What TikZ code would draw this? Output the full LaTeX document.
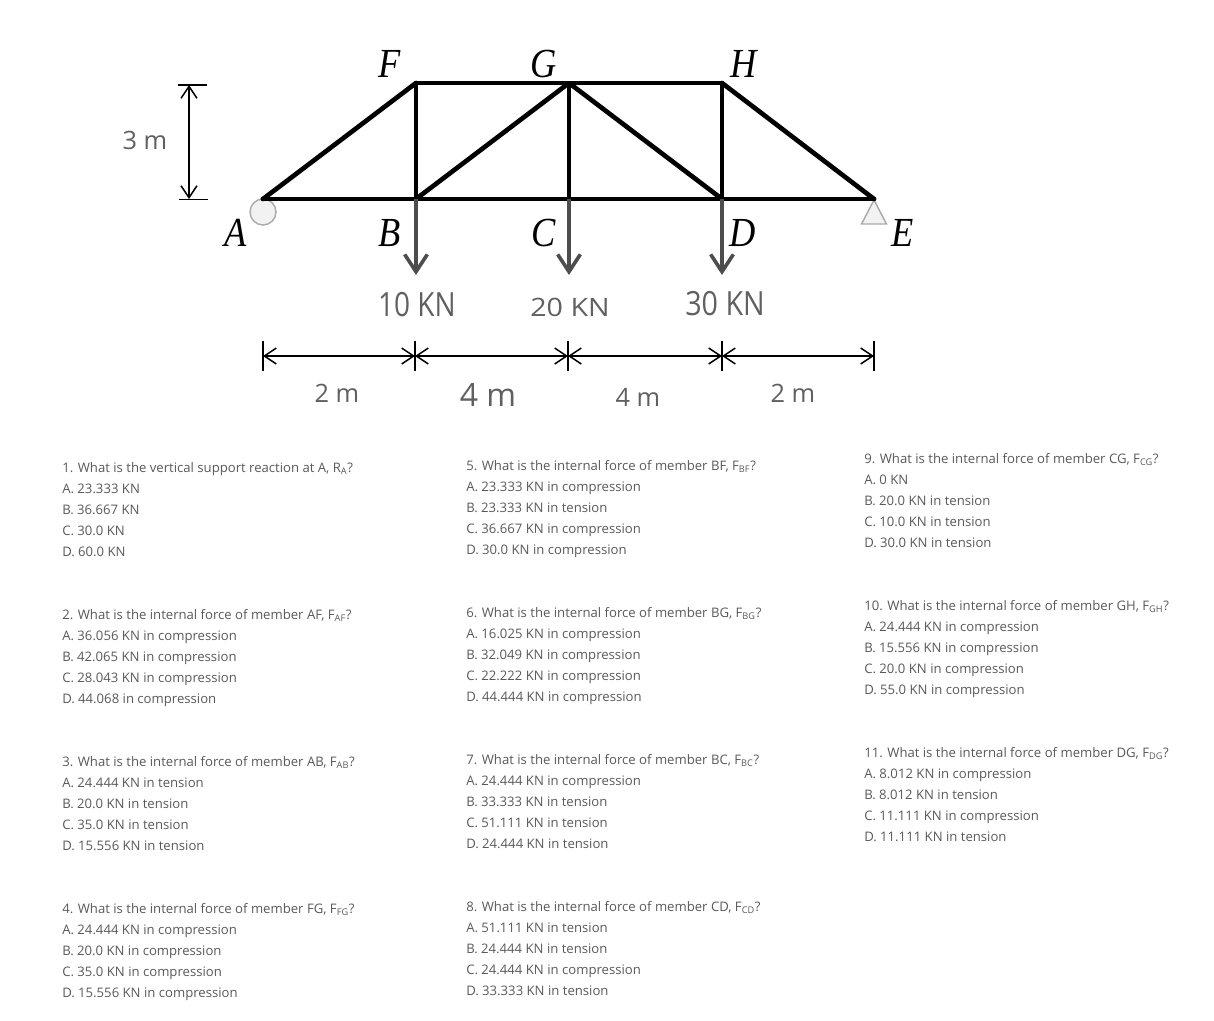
\documentclass[tikz,border=0pt]{standalone}
\usepackage{fontspec}
\setmainfont{Open Sans}
\newfontfamily\jointfont{Liberation Serif}
\usetikzlibrary{arrows.meta}
\definecolor{qgray}{HTML}{595959}
\definecolor{loadgray}{HTML}{4D4D4D}
\definecolor{supgray}{HTML}{ABABAB}
\definecolor{supfill}{HTML}{F2F2F2}
\definecolor{labgray}{HTML}{606060}
\tikzset{
	member/.style={black, line width=3.5pt},
	load/.style={loadgray, line width=2.7pt, -{Straight Barb[length=13pt,width=17pt,line width=2.7pt]}},
	dimline/.style={black, line width=1.1pt},
	dimarrow/.style={dimline, {Straight Barb[length=9pt,width=12pt]}-{Straight Barb[length=9pt,width=12pt]}},
	joint/.style={inner sep=0pt, font=\jointfont\itshape\fontsize{31}{31}\selectfont, xscale=.88},
	dimlab/.style={inner sep=0pt, labgray, font=\fontsize{19}{19}\selectfont},
	qblock/.style={inner sep=0pt, anchor=north west, align=left, qgray, font=\fontsize{9.85}{15.75}\selectfont},
	support/.style={draw=supgray, fill=supfill, line width=1.1pt},
}
\newcommand{\sub}[1]{\textsubscript{#1}}
\begin{document}
\begin{tikzpicture}[x=0.75pt, y=-0.75pt]
		\useasboundingbox (0,0) rectangle (1214,1021);
		% joints
		\coordinate (A) at (263,199);
		\coordinate (B) at (416,199);
		\coordinate (C) at (569,199);
		\coordinate (D) at (722,199);
		\coordinate (E) at (874,199);
		\coordinate (F) at (416,83);
		\coordinate (G) at (569,83);
		\coordinate (H) at (722,83);
		% supports
		\node[support, circle, minimum size=19.5pt, inner sep=0pt] (supA) at (263,212) {};
		\filldraw[support] (E) ++(0,1) -- ++(-12.5,24) -- ++(25,0) -- cycle;
		% truss
		\draw[member, line cap=round] (A) -- (E);
		\draw[member, line cap=round] (F) -- (H);
		\draw[member, line cap=round] (A) -- (F);
		\draw[member] (F) -- (B);
		\draw[member] (B) -- (G);
		\draw[member] (G) -- (C);
		\draw[member] (G) -- (D);
		\draw[member] (H) -- (D);
		\draw[member, line cap=round] (H) -- (E);
		% loads
		\coordinate (loadB) at (416,275);
		\coordinate (loadC) at (569,275);
		\coordinate (loadD) at (722,275);
		\draw[load] (B) -- (loadB);
		\draw[load] (C) -- (loadC);
		\draw[load] (D) -- (loadD);
		% joint labels
		\node[joint] (labF) at (390,64) {F};
		\node[joint] (labG) at (544,64) {G};
		\node[joint] (labH) at (744,64) {H};
		\node[joint] (labA) at (236,233) {A};
		\node[joint] (labB) at (390,233) {B};
		\node[joint] (labC) at (544,233) {C};
		\node[joint] (labD) at (743,233) {D};
		\node[joint] (labE) at (903,233) {E};
		% height dimension
		\coordinate (hTop) at (189,85);
		\coordinate (hBot) at (189,199);
		\draw[dimarrow] (hTop) -- (hBot);
		\draw[dimline] (178,85) -- (207,85);
		\draw[dimline] (179,199.5) -- (208,199.5);
		\node[dimlab] (labH3) at (145,140) {3 m};
		% span dimension
		\coordinate (d0) at (263,356);
		\coordinate (d1) at (415,356);
		\coordinate (d2) at (568,356);
		\coordinate (d3) at (722,356);
		\coordinate (d4) at (874,356);
		\draw[dimarrow] (d0) -- (d1);
		\draw[dimarrow] (d1) -- (d2);
		\draw[dimarrow] (d2) -- (d3);
		\draw[dimarrow] (d3) -- (d4);
		\foreach \n in {0,...,4}
			\draw[dimline] (d\n) ++(0,-15) -- ++(0,30);
		% dimension texts
		\node[dimlab, font=\fontsize{25}{25}\selectfont, xscale=.84] (lab10) at (417,305) {10 KN};
		\node[dimlab, xscale=1.13] (lab20) at (570,307) {20 KN};
		\node[dimlab, font=\fontsize{25}{25}\selectfont, xscale=.86] (lab30) at (725,304) {30 KN};
		\node[dimlab] (spanA) at (337,393) {2 m};
		\node[dimlab, font=\fontsize{24}{24}\selectfont] (spanB) at (488,395) {4 m};
		\node[dimlab] (spanC) at (638,397) {4 m};
		\node[dimlab] (spanD) at (793,393) {2 m};
		% questions
		\node[qblock] (q1) at (62,462) {1. What is the vertical support reaction at A, R\sub{A}?\\A. 23.333 KN\\B. 36.667 KN\\C. 30.0 KN\\D. 60.0 KN};
		\node[qblock] (q2) at (62,609) {2. What is the internal force of member AF, F\sub{AF}?\\A. 36.056 KN in compression\\B. 42.065 KN in compression\\C. 28.043 KN in compression\\D. 44.068 in compression};
		\node[qblock] (q3) at (62,756) {3. What is the internal force of member AB, F\sub{AB}?\\A. 24.444 KN in tension\\B. 20.0 KN in tension\\C. 35.0 KN in tension\\D. 15.556 KN in tension};
		\node[qblock] (q4) at (62,903) {4. What is the internal force of member FG, F\sub{FG}?\\A. 24.444 KN in compression\\B. 20.0 KN in compression\\C. 35.0 KN in compression\\D. 15.556 KN in compression};
		\node[qblock] (q5) at (466,460) {5. What is the internal force of member BF, F\sub{BF}?\\A. 23.333 KN in compression\\B. 23.333 KN in tension\\C. 36.667 KN in compression\\D. 30.0 KN in compression};
		\node[qblock] (q6) at (466,607) {6. What is the internal force of member BG, F\sub{BG}?\\A. 16.025 KN in compression\\B. 32.049 KN in compression\\C. 22.222 KN in compression\\D. 44.444 KN in compression};
		\node[qblock] (q7) at (466,754) {7. What is the internal force of member BC, F\sub{BC}?\\A. 24.444 KN in compression\\B. 33.333 KN in tension\\C. 51.111 KN in tension\\D. 24.444 KN in tension};
		\node[qblock] (q8) at (466,901) {8. What is the internal force of member CD, F\sub{CD}?\\A. 51.111 KN in tension\\B. 24.444 KN in tension\\C. 24.444 KN in compression\\D. 33.333 KN in tension};
		\node[qblock] (q9) at (864,453) {9. What is the internal force of member CG, F\sub{CG}?\\A. 0 KN\\B. 20.0 KN in tension\\C. 10.0 KN in tension\\D. 30.0 KN in tension};
		\node[qblock] (q10) at (864,600) {10. What is the internal force of member GH, F\sub{GH}?\\A. 24.444 KN in compression\\B. 15.556 KN in compression\\C. 20.0 KN in compression\\D. 55.0 KN in compression};
		\node[qblock] (q11) at (864,747) {11. What is the internal force of member DG, F\sub{DG}?\\A. 8.012 KN in compression\\B. 8.012 KN in tension\\C. 11.111 KN in compression\\D. 11.111 KN in tension};
	\end{tikzpicture}
\end{document}
